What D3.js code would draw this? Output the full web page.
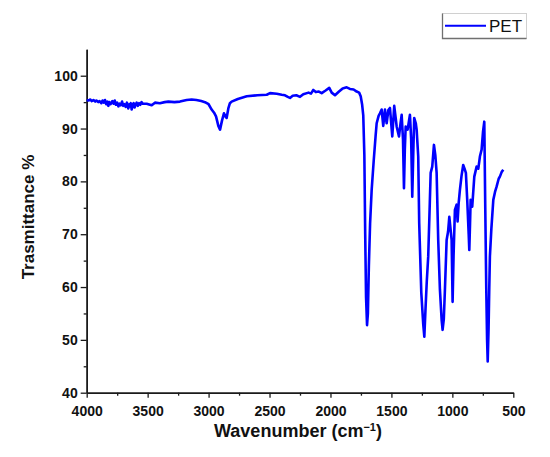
<!DOCTYPE html>
<html>
<head>
<meta charset="utf-8">
<script src="https://cdn.jsdelivr.net/npm/d3@7"></script>
<style>
  body { margin: 0; background: #fff; }
  text { font-family: "Liberation Sans", Arial, sans-serif; }
</style>
</head>
<body>
<svg id="chart"></svg>
<script>
// FTIR spectrum of PET
const wavenumber = [
  4000, 3985, 3970, 3960, 3945, 3930, 3920, 3905, 3895, 3880, 3870, 3860, 3850, 3840, 3830,
  3823, 3815, 3805, 3790, 3780, 3770, 3760, 3750, 3740, 3730, 3720, 3710, 3700, 3690, 3680,
  3670, 3659, 3650, 3645, 3638, 3631, 3622, 3615, 3607, 3600, 3590, 3580, 3570, 3560, 3550,
  3540, 3508, 3467, 3440, 3400, 3360, 3330, 3280, 3235, 3180, 3139, 3100, 3060, 3030, 3000,
  2975, 2955, 2939, 2920, 2906, 2890, 2874, 2862, 2852, 2838, 2825, 2811, 2760, 2687, 2600,
  2523, 2496, 2441, 2400, 2373, 2350, 2332, 2310, 2280, 2250, 2223, 2180, 2160, 2141, 2120,
  2095, 2072, 2040, 2010, 1990, 1963, 1930, 1900, 1867, 1840, 1810, 1785, 1765, 1752, 1740,
  1731, 1722, 1715, 1708, 1700, 1693, 1685, 1675, 1662, 1645, 1630, 1621, 1605, 1594, 1580,
  1567, 1553, 1539, 1525, 1512, 1493, 1477, 1465, 1457, 1438, 1425, 1416, 1405, 1397, 1390,
  1383, 1367, 1348, 1338, 1329, 1320, 1313, 1300, 1293, 1280, 1272, 1255, 1239, 1230, 1220,
  1210, 1198, 1185, 1178, 1165, 1151, 1140, 1129, 1116, 1102, 1088, 1080, 1070, 1061, 1047,
  1035, 1025, 1015, 1006, 998, 990, 979, 965, 957, 948, 938, 925, 911, 900, 889,
  878, 866, 861, 855, 850, 837, 820, 801, 787, 774, 760, 748, 738, 730, 722,
  715, 710, 703, 697, 692, 680, 664, 650, 637, 620, 610, 595, 582
];
const transmittance = [
  95.4, 95.3, 95.5, 95.2, 95.4, 95.1, 95.3, 95.0, 95.2, 94.8, 95.3, 94.9, 95.4, 94.6, 95.1,
  94.3, 95.0, 94.6, 95.2, 94.7, 95.3, 94.5, 94.9, 94.2, 94.7, 94.4, 95.1, 94.3, 94.6, 94.1,
  94.9, 93.8, 94.6, 94.2, 94.8, 93.6, 94.5, 94.8, 94.0, 94.4, 94.9, 94.3, 94.8, 94.5, 95.0,
  94.7, 94.7, 94.4, 94.9, 94.8, 95.0, 95.1, 95.0, 95.1, 95.4, 95.5, 95.4, 95.2, 95.0, 94.6,
  93.6, 93.0, 92.3, 90.5, 89.8, 91.5, 92.9, 92.3, 92.0, 93.8, 94.8, 95.1, 95.6, 96.1, 96.3,
  96.4, 96.7, 96.6, 96.4, 96.3, 96.0, 95.8, 96.2, 96.3, 96.0, 96.5, 96.8, 96.6, 97.3, 96.9,
  97.0, 96.7, 97.2, 97.7, 96.8, 96.3, 97.0, 97.6, 97.8, 97.5, 97.4, 97.0, 96.8, 96.1, 94.5,
  92.5, 85.0, 70.0, 58.0, 52.8, 55.0, 64.0, 72.0, 78.4, 84.0, 88.5, 91.0, 92.4, 92.9, 93.6,
  90.5, 93.6, 91.0, 93.5, 93.9, 88.5, 94.3, 92.0, 90.4, 88.5, 91.0, 92.6, 88.0, 78.7, 86.0,
  90.4, 89.8, 92.6, 88.0, 77.1, 86.0, 92.0, 91.0, 89.8, 84.7, 72.1, 59.0, 53.0, 50.6, 56.0,
  61.0, 65.8, 76.0, 81.6, 82.8, 86.9, 85.0, 81.6, 68.9, 59.5, 53.8, 51.9, 54.0, 59.5, 68.9,
  70.5, 73.3, 71.0, 68.9, 57.2, 66.0, 74.6, 75.6, 72.4, 76.0, 78.4, 81.0, 83.1, 82.4, 81.6,
  76.5, 70.0, 67.0, 72.0, 76.5, 75.2, 80.9, 82.8, 82.4, 84.7, 86.0, 89.5, 91.3, 75.0, 60.0,
  50.0, 45.9, 52.0, 60.0, 65.8, 71.0, 76.5, 78.0, 79.0, 80.5, 80.9, 81.8, 82.2
];
const xMajor = [4000, 3500, 3000, 2500, 2000, 1500, 1000, 500];
const xMinor = [3750, 3250, 2750, 2250, 1750, 1250, 750];
const yMajor = [40, 50, 60, 70, 80, 90, 100];
const yMinor = [45, 55, 65, 75, 85, 95];
const seriesName = "PET";

const width = 550, height = 457;
const svg = d3.select("#chart").attr("width", width).attr("height", height);

const x = d3.scaleLinear().domain([4000, 500]).range([86.7, 513.3]);
const y = d3.scaleLinear().domain([40, 105]).range([392.7, 49.3]);

const points = wavenumber.map((w, i) => ({ w: w, t: transmittance[i] }));

// axes
const axisColor = "#1a1a1a";
function styleAxis(g) {
  g.selectAll("path").attr("stroke", axisColor).attr("stroke-width", 1.5);
  g.selectAll("line").attr("stroke", axisColor).attr("stroke-width", 1.3);
  g.selectAll("text")
    .attr("fill", "#111")
    .style("font-size", "14px")
    .style("font-weight", "bold");
}

svg.append("g")
  .attr("transform", `translate(0,${y(40)})`)
  .call(d3.axisBottom(x).tickValues(xMinor).tickSize(3).tickSizeOuter(0).tickFormat(""))
  .call(styleAxis);
svg.append("g")
  .attr("transform", `translate(0,${y(40)})`)
  .call(d3.axisBottom(x).tickValues(xMajor).tickSize(5).tickSizeOuter(0).tickPadding(8).tickFormat(d3.format("d")))
  .call(styleAxis);

svg.append("g")
  .attr("transform", `translate(${x(4000)},0)`)
  .call(d3.axisLeft(y).tickValues(yMinor).tickSize(3).tickSizeOuter(0).tickFormat(""))
  .call(styleAxis);
svg.append("g")
  .attr("transform", `translate(${x(4000)},0)`)
  .call(d3.axisLeft(y).tickValues(yMajor).tickSize(6).tickSizeOuter(0).tickPadding(3).tickFormat(d3.format("d")))
  .call(styleAxis);

// spectrum
const line = d3.line().x(d => x(d.w)).y(d => y(d.t));
svg.append("path")
  .datum(points)
  .attr("fill", "none")
  .attr("stroke", "#0000ff")
  .attr("stroke-width", 2.6)
  .attr("stroke-linejoin", "round")
  .attr("d", line);

// axis titles
const xt = svg.append("text")
  .attr("x", 298)
  .attr("y", 437)
  .attr("text-anchor", "middle")
  .style("font-size", "18px")
  .style("font-weight", "bold")
  .attr("fill", "#111");
xt.append("tspan").text("Wavenumber (cm");
xt.append("tspan").attr("baseline-shift", "super").style("font-size", "11px").text("\u22121");
xt.append("tspan").text(")");

svg.append("text")
  .attr("transform", `translate(34,217) rotate(-90)`)
  .attr("text-anchor", "middle")
  .style("font-size", "17px")
  .style("font-weight", "bold")
  .attr("fill", "#111")
  .text("Trasmittance %");

// legend
const lg = svg.append("g");
lg.append("rect")
  .attr("x", 442.5).attr("y", 13.5).attr("width", 84).attr("height", 25)
  .attr("fill", "#fff").attr("stroke", "#d0d0d0").attr("stroke-width", 1);
lg.append("path")
  .attr("d", "M442.5,13.5 V38.5 H526.5")
  .attr("fill", "none").attr("stroke", "#707070").attr("stroke-width", 1.3);
lg.append("line")
  .attr("x1", 445).attr("x2", 486).attr("y1", 25.7).attr("y2", 25.7)
  .attr("stroke", "#0000ff").attr("stroke-width", 2);
lg.append("text")
  .attr("x", 489).attr("y", 32)
  .style("font-size", "17px")
  .attr("fill", "#111")
  .text(seriesName);
</script>
</body>
</html>
